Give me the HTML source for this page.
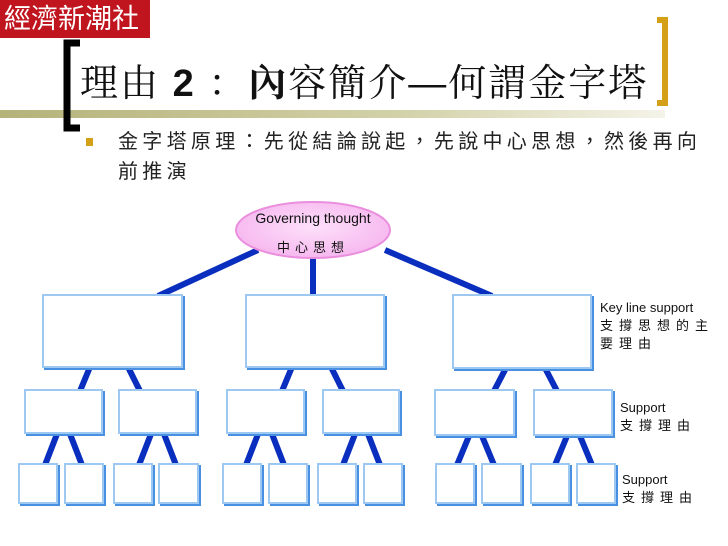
<!DOCTYPE html>
<html><head><meta charset="utf-8"><style>
html,body{margin:0;padding:0;background:#fff;}
body{width:728px;height:546px;position:relative;overflow:hidden;font-family:"Liberation Sans","Noto Sans CJK TC",sans-serif;}
.abs{position:absolute;white-space:nowrap;}
</style></head><body>
<svg width="728" height="546" style="position:absolute;left:0;top:0">
<defs>
<linearGradient id="ol" x1="0" x2="1"><stop offset="0" stop-color="#b5b27a"/><stop offset="0.6" stop-color="#d3d1a8"/><stop offset="1" stop-color="#f4f3e8"/></linearGradient>
<radialGradient id="pk" cx="0.5" cy="0.45" r="0.6"><stop offset="0" stop-color="#fde0fa"/><stop offset="1" stop-color="#f6b4ee"/></radialGradient>
</defs>
<rect x="0" y="0" width="150" height="38" fill="#c0141e"/>
<rect x="0" y="110" width="665" height="8" fill="url(#ol)"/>
<path d="M80 43 H67 V128 H80" fill="none" stroke="#000" stroke-width="7"/>
<path d="M657 20 H665 V103 H657" fill="none" stroke="#d4a017" stroke-width="6"/>
<rect x="86" y="138" width="7" height="8" fill="#d4a017"/>
<g stroke="#0a2fbf" stroke-width="6" stroke-linecap="butt">
<line x1="258" y1="250" x2="158" y2="296"/>
<line x1="313" y1="255" x2="313" y2="296"/>
<line x1="385" y1="250" x2="492" y2="296"/>
<line x1="90" y1="367" x2="80" y2="391"/><line x1="128" y1="367" x2="140" y2="391"/>
<line x1="292" y1="367" x2="282" y2="391"/><line x1="331" y1="367" x2="343" y2="391"/>
<line x1="506" y1="368" x2="494" y2="391"/><line x1="545" y1="368" x2="557" y2="391"/>
<line x1="57" y1="434" x2="45" y2="465"/><line x1="70" y1="434" x2="82" y2="465"/>
<line x1="151" y1="434" x2="139" y2="465"/><line x1="164" y1="434" x2="176" y2="465"/>
<line x1="258" y1="434" x2="246" y2="465"/><line x1="272" y1="434" x2="284" y2="465"/>
<line x1="355" y1="434" x2="343" y2="465"/><line x1="368" y1="434" x2="380" y2="465"/>
<line x1="469" y1="436" x2="457" y2="465"/><line x1="482" y1="436" x2="494" y2="465"/>
<line x1="567" y1="436" x2="555" y2="465"/><line x1="580" y1="436" x2="592" y2="465"/>
</g>
<ellipse cx="313" cy="230" rx="77" ry="28" fill="url(#pk)" stroke="#ea8ede" stroke-width="2"/>
<g fill="#fff" stroke="#9cc8f2" stroke-width="2">
<g style="filter:drop-shadow(2px 2px 0 #4a90e2)">
<rect x="43" y="295" width="139" height="72"/><rect x="246" y="295" width="138" height="72"/><rect x="453" y="295" width="138" height="73"/>
<rect x="25" y="390" width="77" height="43"/><rect x="119" y="390" width="77" height="43"/><rect x="227" y="390" width="77" height="43"/><rect x="323" y="390" width="76" height="43"/><rect x="435" y="390" width="79" height="45"/><rect x="534" y="390" width="78" height="45"/>
<rect x="19" y="464" width="38" height="39"/><rect x="65" y="464" width="38" height="39"/><rect x="114" y="464" width="38" height="39"/><rect x="159" y="464" width="39" height="39"/><rect x="223" y="464" width="38" height="39"/><rect x="269" y="464" width="38" height="39"/><rect x="318" y="464" width="38" height="39"/><rect x="364" y="464" width="38" height="39"/><rect x="436" y="464" width="38" height="39"/><rect x="482" y="464" width="39" height="39"/><rect x="531" y="464" width="38" height="39"/><rect x="577" y="464" width="38" height="39"/>
</g></g>
</svg>
<div class="abs" style="left:4px;top:2px;font-size:27px;line-height:34px;color:#fff;">經濟新潮社</div>
<div class="abs" style="left:80px;top:62px;font-size:38px;line-height:44px;color:#111;letter-spacing:2px;font-family:'Liberation Sans','Noto Serif CJK SC',serif;">理由 <b style="font-family:'Liberation Sans',sans-serif">2</b> ：<b>內</b>容簡介—何謂金字塔</div>
<div class="abs" style="left:118px;top:127px;font-size:20px;line-height:30px;color:#222;letter-spacing:4.3px;">金字塔原理：先從結論說起，先說中心思想，然後再向<br>前推演</div>
<div class="abs" style="left:236px;top:210px;width:154px;text-align:center;font-size:14px;color:#111;">Governing thought</div>
<div class="abs" style="left:236px;top:237px;width:154px;text-align:center;font-size:13px;color:#111;letter-spacing:5px;">中心思想</div>
<div class="abs" style="left:600px;top:299px;font-size:13px;line-height:18px;color:#111;">Key line support<br><span style="letter-spacing:6px">支撐思想的主</span><br><span style="letter-spacing:6px">要理由</span></div>
<div class="abs" style="left:620px;top:399px;font-size:13px;line-height:18px;color:#111;">Support<br><span style="letter-spacing:6px">支撐理由</span></div>
<div class="abs" style="left:622px;top:471px;font-size:13px;line-height:18px;color:#111;">Support<br><span style="letter-spacing:6px">支撐理由</span></div>
</body></html>
